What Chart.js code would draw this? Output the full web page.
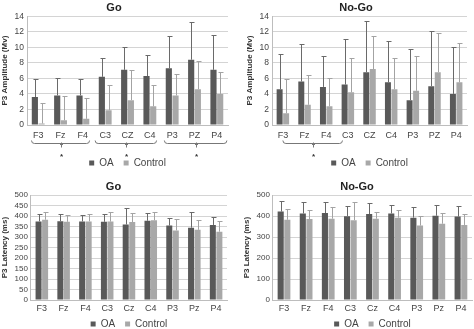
<!DOCTYPE html>
<html lang="en">
<head>
<meta charset="UTF-8">
<title>P3 Amplitude and Latency</title>
<script src="https://cdn.jsdelivr.net/npm/chart.js"></script>
<style>
    body { margin: 0; background: #fff; }
    #wrap { position: relative; width: 474px; height: 329px; overflow: hidden; }
    .panel { position: absolute; }
</style>
</head>
<body>
<div id="wrap">
    <div class="panel" style="left:0;top:170px;width:237px;height:175px;"><canvas id="goLat"></canvas></div>
    <div class="panel" style="left:237px;top:170px;width:237px;height:175px;"><canvas id="nogoLat"></canvas></div>
    <div class="panel" style="left:0;top:0;width:237px;height:178px;"><canvas id="goAmp"></canvas></div>
    <div class="panel" style="left:237px;top:0;width:237px;height:178px;"><canvas id="nogoAmp"></canvas></div>
</div>
<script>
// electrode labels
var ampSites = ['F3', 'Fz', 'F4', 'C3', 'CZ', 'C4', 'P3', 'PZ', 'P4'];
var latSites = ['F3', 'Fz', 'F4', 'C3', 'Cz', 'C4', 'P3', 'Pz', 'P4'];

// Go - P3 amplitude (mean, SD)
var goAmpOA = [3.6, 3.8, 3.8, 6.2, 7.1, 6.3, 7.3, 8.4, 7.1];
var goAmpOASd = [2.3, 2.3, 2.1, 2.4, 3.0, 2.7, 4.2, 4.9, 4.5];
var goAmpCtrl = [0.2, 0.6, 0.8, 1.9, 3.2, 2.4, 3.8, 4.6, 4.0];
var goAmpCtrlSd = [2.6, 3.1, 2.7, 3.2, 3.9, 2.8, 2.7, 3.6, 2.8];

// No-Go - P3 amplitude
var nogoAmpOA = [4.6, 5.6, 4.9, 5.2, 6.8, 5.5, 3.2, 5.0, 4.0];
var nogoAmpOASd = [4.5, 4.8, 4.0, 5.9, 6.6, 5.3, 6.6, 7.1, 6.0];
var nogoAmpCtrl = [1.5, 2.6, 2.4, 4.2, 7.2, 4.6, 4.4, 6.8, 5.5];
var nogoAmpCtrlSd = [4.4, 3.8, 3.6, 4.4, 4.3, 4.0, 4.5, 5.1, 5.0];

// Go - P3 latency
var goLatOA = [375, 376, 375, 373, 360, 378, 355, 345, 358];
var goLatOASd = [33, 32, 32, 35, 77, 35, 38, 73, 40];
var goLatCtrl = [383, 373, 375, 374, 372, 380, 332, 335, 326];
var goLatCtrlSd = [37, 31, 37, 44, 41, 42, 55, 47, 51];

// No-Go - P3 latency
var nogoLatOA = [422, 413, 415, 400, 410, 413, 393, 402, 398];
var nogoLatOASd = [51, 54, 52, 48, 52, 40, 52, 51, 49];
var nogoLatCtrl = [383, 386, 388, 381, 388, 393, 355, 364, 358];
var nogoLatCtrlSd = [52, 44, 54, 85, 32, 37, 47, 49, 50];

// significance brackets, in category index units
var goBrackets = [[-0.3, 2.3], [2.55, 5.3], [5.65, 8.45]];
var nogoBrackets = [[0, 2.75]];

var FONT = 'Liberation Sans, Arial, sans-serif';

// one-sided (upper) error bars
var errorBars = {
    id: 'errorBars',
    afterDatasetsDraw: function (chart) {
        var ctx = chart.ctx;
        var y = chart.scales.y;
        chart.data.datasets.forEach(function (ds, i) {
            var meta = chart.getDatasetMeta(i);
            ctx.save();
            ctx.strokeStyle = ds.errColor;
            ctx.lineWidth = 1;
            meta.data.forEach(function (bar, j) {
                var top = Math.round(y.getPixelForValue(ds.data[j] + ds.sd[j])) + 0.5;
                var x = Math.round(bar.x) + 0.5;
                ctx.beginPath();
                ctx.moveTo(x, bar.y);
                ctx.lineTo(x, top);
                ctx.moveTo(x - 2, top);
                ctx.lineTo(x + 3, top);
                ctx.stroke();
            });
            ctx.restore();
        });
    }
};

// brackets with star under the x labels
var brackets = {
    id: 'brackets',
    afterDraw: function (chart, args, opts) {
        if (!opts.list) return;
        var ctx = chart.ctx;
        var x = chart.scales.x;
        var yb = Math.round(chart.chartArea.bottom + 18) + 0.5;
        var step = x.getPixelForValue(1) - x.getPixelForValue(0);
        ctx.save();
        ctx.strokeStyle = '#777';
        ctx.lineWidth = 1;
        opts.list.forEach(function (b) {
            var x0 = x.getPixelForValue(0) + step * b[0];
            var x1 = x.getPixelForValue(0) + step * b[1];
            var xm = Math.round((x0 + x1) / 2) + 0.5;
            ctx.beginPath();
            ctx.moveTo(x0, yb - 3);
            ctx.quadraticCurveTo(x0, yb, x0 + 3, yb);
            ctx.lineTo(x1 - 3, yb);
            ctx.quadraticCurveTo(x1, yb, x1, yb - 3);
            ctx.moveTo(xm, yb - 1);
            ctx.lineTo(xm, yb + 4);
            ctx.moveTo(xm - 1.5, yb + 1);
            ctx.lineTo(xm + 1.5, yb + 1);
            ctx.stroke();
            ctx.fillStyle = '#333';
            ctx.font = 'bold 8px ' + FONT;
            ctx.textAlign = 'center';
            ctx.fillText('*', xm, yb + 13);
        });
        ctx.restore();
    }
};

// nudge the legend box up after layout
var legendShift = {
    id: 'legendShift',
    afterLayout: function (chart, args, opts) {
        if (!opts.dy) return;
        chart.legend.top -= opts.dy;
        chart.legend.bottom -= opts.dy;
    }
};

function makeChart(id, title, yTitle, labels, oa, oaSd, ctrl, ctrlSd, yMax, yStep, br, padLeft, padRight, titleTop, tickPad, xHeight, yFont, shift) {
    return new Chart(document.getElementById(id), {
        type: 'bar',
        data: {
            labels: labels,
            datasets: [{
                label: 'OA',
                data: oa,
                sd: oaSd,
                errColor: '#6a6a6a',
                backgroundColor: '#595959'
            }, {
                label: 'Control',
                data: ctrl,
                sd: ctrlSd,
                errColor: '#a3a3a3',
                backgroundColor: '#a8a8a8'
            }]
        },
        options: {
            responsive: true,
            maintainAspectRatio: false,
            animation: false,
            categoryPercentage: 0.6,
            barPercentage: 0.92,
            layout: { padding: { left: padLeft, right: padRight, top: 0, bottom: 0 } },
            plugins: {
                title: {
                    display: true,
                    text: title,
                    color: '#222',
                    font: { family: FONT, size: 11, weight: 'bold' },
                    padding: { top: titleTop, bottom: 2 }
                },
                legend: {
                    position: 'bottom',
                    fullSize: false,
                    labels: {
                        boxWidth: 5,
                        boxHeight: 5,
                        padding: 10,
                        color: '#444',
                        font: { family: FONT, size: 10 }
                    }
                },
                tooltip: { enabled: false },
                brackets: { list: br },
                legendShift: { dy: shift }
            },
            scales: {
                x: {
                    grid: { display: false, drawTicks: false },
                    border: { color: '#bdbdbd' },
                    ticks: { color: '#444', font: { family: FONT, size: 9 }, padding: tickPad },
                    afterFit: function (s) { s.height = xHeight; }
                },
                y: {
                    min: 0,
                    max: yMax,
                    ticks: { stepSize: yStep, autoSkip: false, color: '#444', font: { family: FONT, size: yFont }, padding: 3 },
                    grid: { color: '#d4d4d4', drawTicks: false },
                    border: { color: '#bdbdbd' },
                    title: {
                        display: true,
                        text: yTitle,
                        color: '#333',
                        font: { family: FONT, size: 8, weight: 'bold' },
                        padding: { top: 0, bottom: 2 }
                    }
                }
            }
        },
        plugins: [errorBars, brackets, legendShift]
    });
}

makeChart('goAmp', 'Go', 'P3 Amplitude (Mv)', ampSites, goAmpOA, goAmpOASd, goAmpCtrl, goAmpCtrlSd, 14, 2, goBrackets, 0, 9, 1, 5, 23, 8.5, 0);
makeChart('nogoAmp', 'No-Go', 'P3 Amplitude (Mv)', ampSites, nogoAmpOA, nogoAmpOASd, nogoAmpCtrl, nogoAmpCtrlSd, 14, 2, nogoBrackets, 8, 7, 1, 5, 23, 8.5, 0);
makeChart('goLat', 'Go', 'P3 Latency (ms)', latSites, goLatOA, goLatOASd, goLatCtrl, goLatCtrlSd, 500, 50, null, 0, 10, 10, 3, 15, 8, 6);
makeChart('nogoLat', 'No-Go', 'P3 Latency (ms)', latSites, nogoLatOA, nogoLatOASd, nogoLatCtrl, nogoLatCtrlSd, 500, 100, null, 5, 2, 10, 3, 15, 8, 6);
</script>
</body>
</html>
